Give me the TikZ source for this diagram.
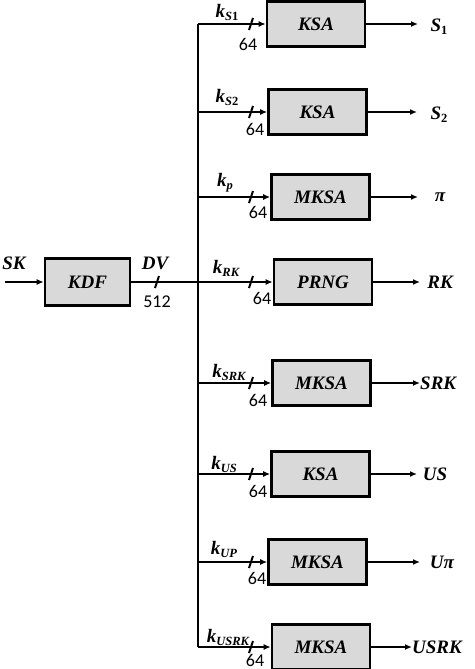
\documentclass[tikz,border=0pt]{standalone}
\usepackage{fontspec}
\usetikzlibrary{arrows.meta}
\newfontfamily\lblfont{Liberation Serif}[BoldItalicFont={* Bold Italic}]
\newfontfamily\numfont{Carlito}
\newcommand\lbl{\lblfont\bfseries\itshape\fontsize{19}{21}\selectfont}
\newcommand\sbs[1]{\raisebox{-0.35ex}{\fontsize{12.5}{13}\selectfont #1}}
\newcommand\upd[1]{{\upshape #1}}
\definecolor{boxgray}{HTML}{D9D9D9}
\tikzset{
  blk/.style={draw=black, line width=2.6pt, fill=boxgray, minimum width=98pt, minimum height=45pt, inner sep=0pt, font=\lbl},
  wire/.style={line width=2pt},
  arr/.style={line width=2pt, -{Latex[length=7pt,width=6pt]}},
  tick/.style={line width=2pt},
  lab/.style={font=\lbl, inner sep=0pt},
  num/.style={font=\numfont\fontsize{18}{19}\selectfont, inner sep=0pt}
}
\begin{document}
\begin{tikzpicture}[x=1pt,y=-1pt]
\useasboundingbox (0,0) rectangle (474,669);
% KDF
\node[blk, minimum width=85pt, minimum height=47pt] (kdf) at (87.5,282) {KDF};
\coordinate (skin) at (5,282);
\draw[arr] (skin) -- (kdf.west);
\node[lab] (sk) at (14,263) {SK};
% bus coordinates
\coordinate (b1) at (198,24);
\coordinate (b2) at (198,112);
\coordinate (b3) at (198,197);
\coordinate (b4) at (198,282);
\coordinate (b5) at (198,383);
\coordinate (b6) at (198,474);
\coordinate (b7) at (198,562);
\coordinate (b8) at (198,647);
\draw[wire] (kdf.east) -- (b4);
\draw[tick] (155,288) -- (159,276);
\node[lab] (dv) at (155,263) {DV};
\node[num] (n512) at (157,302) {512};
\draw[wire, line join=miter] (b1) -- (b8);
% boxes
\node[blk] (ksa1) at (316,24) {KSA};
\node[blk] (ksa2) at (317.5,112) {KSA};
\node[blk] (mk1) at (320.5,197) {MKSA};
\node[blk] (prng) at (323,282) {PRNG};
\node[blk] (mk2) at (321.5,383) {MKSA};
\node[blk] (ksa3) at (320.5,474) {KSA};
\node[blk] (mk3) at (317.5,562) {MKSA};
\node[blk] (mk4) at (321,647) {MKSA};
% branches
\foreach \b/\n in {b1/ksa1,b2/ksa2,b3/mk1,b4/prng,b5/mk2,b6/ksa3,b7/mk3,b8/mk4}{
  \draw[arr] (\b) -- (\n.west);
}
\foreach \y in {24,112,197,282,383,474,562,647}{
  \draw[tick] (249,\y+6) -- (253,\y-6);
}
% k labels
\node[lab] (k1) at (227,12) {k\sbs{S\upd{1}}};
\node[lab] (k2) at (227,97) {k\sbs{S\upd{2}}};
\node[lab] (k3) at (225,183) {k\sbs{p}};
\node[lab] (k4) at (226,268) {k\sbs{RK}};
\node[lab] (k5) at (229,372) {k\sbs{SRK}};
\node[lab] (k6) at (224,464) {k\sbs{US}};
\node[lab] (k7) at (224,549) {k\sbs{UP}};
\node[lab] (k8) at (228,637) {k\sbs{USRK}};
% 64 labels
\node[num] (w1) at (248,44) {64};
\node[num] (w2) at (255,129) {64};
\node[num] (w3) at (258,212) {64};
\node[num] (w4) at (262,298) {64};
\node[num] (w5) at (258,400) {64};
\node[num] (w6) at (258,491) {64};
\node[num] (w7) at (257,578) {64};
\node[num] (w8) at (255,660) {64};
% outputs
\coordinate (o1) at (418,24);
\coordinate (o2) at (417,112);
\coordinate (o3) at (418,197);
\coordinate (o4) at (420,282);
\coordinate (o5) at (420,383);
\coordinate (o6) at (417,474);
\coordinate (o7) at (420,562);
\coordinate (o8) at (412,647);
\draw[arr] (ksa1.east) -- (o1);
\draw[arr] (ksa2.east) -- (o2);
\draw[arr] (mk1.east) -- (o3);
\draw[arr] (prng.east) -- (o4);
\draw[arr] (mk2.east) -- (o5);
\draw[arr] (ksa3.east) -- (o6);
\draw[arr] (mk3.east) -- (o7);
\draw[arr] (mk4.east) -- (o8);
\node[lab] (s1) at (439,27) {S\sbs{\upd{1}}};
\node[lab] (s2) at (439,115) {S\sbs{\upd{2}}};
\node[lab] (pi) at (440,197) {π};
\node[lab] (rk) at (440,282) {RK};
\node[lab, anchor=west] (srk) at (o5) {SRK};
\node[lab] (us) at (435,474) {US};
\node[lab] (upi) at (442,562) {Uπ};
\node[lab, anchor=west] (usrk) at (o8) {USRK};
\end{tikzpicture}
\end{document}
